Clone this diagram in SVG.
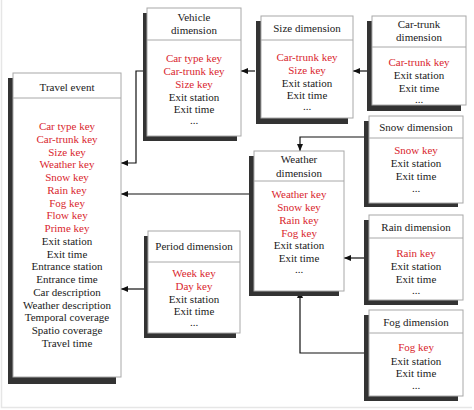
<svg xmlns="http://www.w3.org/2000/svg" width="474" height="410" viewBox="0 0 474 410" font-family="Liberation Serif, DejaVu Serif, serif">
<defs>
<style>
.box{fill:#fff;stroke:#a8a8a8;stroke-width:1}
.sh{fill:#333}
.sep{stroke:#a8a8a8;stroke-width:1}
text{font-family:Liberation Serif, Times New Roman, DejaVu Serif, serif;font-size:11px;text-anchor:middle;fill:#1a1a1a}
.k{fill:#d9262e}
.c{fill:none;stroke:#111;stroke-width:1.2}
</style>
<marker id="ar" markerUnits="userSpaceOnUse" markerWidth="7" markerHeight="6" refX="7" refY="3" orient="auto">
<path d="M0,0 L7,3 L0,6 z" fill="#111"/>
</marker>
</defs>
<rect width="474" height="410" fill="#fff"/>
<path d="M1.5,0 V407.5 H472" fill="none" stroke="#e6e6e6" stroke-width="1.5"/>

<g id="connectors">
<path class="c" d="M147,71 H136 V163 H121" marker-end="url(#ar)"/>
<path class="c" d="M249,194 H121" marker-end="url(#ar)"/>
<path class="c" d="M144,289 H121" marker-end="url(#ar)"/>
<path class="c" d="M255,71 H241" marker-end="url(#ar)"/>
<path class="c" d="M367,71 H353" marker-end="url(#ar)"/>
<path class="c" d="M364,137 H300 V151" marker-end="url(#ar)"/>
<path class="c" d="M364,258 H344" marker-end="url(#ar)"/>
<path class="c" d="M364,353 H300 V291" marker-end="url(#ar)"/>
</g>

<g id="travel-event">
<rect class="sh" x="8" y="78" width="108" height="306"/>
<rect class="box" x="13" y="73" width="108" height="304"/>
<line class="sep" x1="13" y1="98" x2="121" y2="98"/>
<text x="67" y="91">Travel event</text>
<text class="k" x="67" y="130">Car type key</text>
<text class="k" x="67" y="142.8">Car-trunk key</text>
<text class="k" x="67" y="155.5">Size key</text>
<text class="k" x="67" y="168.3">Weather key</text>
<text class="k" x="67" y="181">Snow key</text>
<text class="k" x="67" y="193.8">Rain key</text>
<text class="k" x="67" y="206.6">Fog key</text>
<text class="k" x="67" y="219.3">Flow key</text>
<text class="k" x="67" y="232.1">Prime key</text>
<text x="67" y="244.8">Exit station</text>
<text x="67" y="257.6">Exit time</text>
<text x="67" y="270.4">Entrance station</text>
<text x="67" y="283.1">Entrance time</text>
<text x="67" y="295.9">Car description</text>
<text x="67" y="308.6">Weather description</text>
<text x="67" y="321.4">Temporal coverage</text>
<text x="67" y="334.2">Spatio coverage</text>
<text x="67" y="346.9">Travel time</text>
</g>

<g id="vehicle-dimension">
<rect class="sh" x="143" y="13" width="94" height="128"/>
<rect class="box" x="147" y="8" width="94" height="128"/>
<line class="sep" x1="147" y1="40" x2="241" y2="40"/>
<text x="194" y="21">Vehicle</text>
<text x="194" y="34">dimension</text>
<text class="k" x="194" y="62">Car type key</text>
<text class="k" x="194" y="75">Car-trunk key</text>
<text class="k" x="194" y="87.5">Size key</text>
<text x="194" y="100.5">Exit station</text>
<text x="194" y="113">Exit time</text>
<text x="194" y="124">...</text>
</g>

<g id="size-dimension">
<rect class="sh" x="256" y="21" width="92" height="103"/>
<rect class="box" x="261" y="16" width="92" height="102"/>
<line class="sep" x1="261" y1="40" x2="353" y2="40"/>
<text x="307" y="32">Size dimension</text>
<text class="k" x="307" y="61">Car-trunk key</text>
<text class="k" x="307" y="74">Size key</text>
<text x="307" y="86.5">Exit station</text>
<text x="307" y="99">Exit time</text>
<text x="307" y="110">...</text>
</g>

<g id="car-trunk-dimension">
<rect class="sh" x="367" y="21" width="94" height="90"/>
<rect class="box" x="372" y="16" width="94" height="89"/>
<line class="sep" x1="372" y1="47" x2="466" y2="47"/>
<text x="419" y="28">Car-trunk</text>
<text x="419" y="41">dimension</text>
<text class="k" x="419" y="66">Car-trunk key</text>
<text x="419" y="79">Exit station</text>
<text x="419" y="92">Exit time</text>
<text x="419" y="103">...</text>
</g>

<g id="snow-dimension">
<rect class="sh" x="364" y="121" width="94" height="86"/>
<rect class="box" x="369" y="116" width="94" height="87"/>
<line class="sep" x1="369" y1="138" x2="463" y2="138"/>
<text x="416" y="131">Snow dimension</text>
<text class="k" x="416" y="154">Snow key</text>
<text x="416" y="167">Exit station</text>
<text x="416" y="180">Exit time</text>
<text x="416" y="192">...</text>
</g>

<g id="weather-dimension">
<rect class="sh" x="249" y="156" width="90" height="140"/>
<rect class="box" x="254" y="151" width="90" height="140"/>
<line class="sep" x1="254" y1="181" x2="344" y2="181"/>
<text x="299" y="163">Weather</text>
<text x="299" y="177">dimension</text>
<text class="k" x="299" y="198">Weather key</text>
<text class="k" x="299" y="211">Snow key</text>
<text class="k" x="299" y="223.5">Rain key</text>
<text class="k" x="299" y="236.5">Fog key</text>
<text x="299" y="249">Exit station</text>
<text x="299" y="262">Exit time</text>
<text x="299" y="273">...</text>
</g>

<g id="rain-dimension">
<rect class="sh" x="364" y="220" width="94" height="85"/>
<rect class="box" x="369" y="215" width="94" height="85"/>
<line class="sep" x1="369" y1="238" x2="463" y2="238"/>
<text x="416" y="231">Rain dimension</text>
<text class="k" x="416" y="257">Rain key</text>
<text x="416" y="270">Exit station</text>
<text x="416" y="283">Exit time</text>
<text x="416" y="294">...</text>
</g>

<g id="fog-dimension">
<rect class="sh" x="364" y="315" width="94" height="86"/>
<rect class="box" x="369" y="310" width="94" height="86"/>
<line class="sep" x1="369" y1="333" x2="463" y2="333"/>
<text x="416" y="326">Fog dimension</text>
<text class="k" x="416" y="351">Fog key</text>
<text x="416" y="365">Exit station</text>
<text x="416" y="377">Exit time</text>
<text x="416" y="389">...</text>
</g>

<g id="period-dimension">
<rect class="sh" x="144" y="236" width="92" height="102"/>
<rect class="box" x="148" y="231" width="92" height="102"/>
<line class="sep" x1="148" y1="262" x2="240" y2="262"/>
<text x="194" y="250">Period dimension</text>
<text class="k" x="194" y="277">Week key</text>
<text class="k" x="194" y="290">Day key</text>
<text x="194" y="303">Exit station</text>
<text x="194" y="315">Exit time</text>
<text x="194" y="326">...</text>
</g>
</svg>
